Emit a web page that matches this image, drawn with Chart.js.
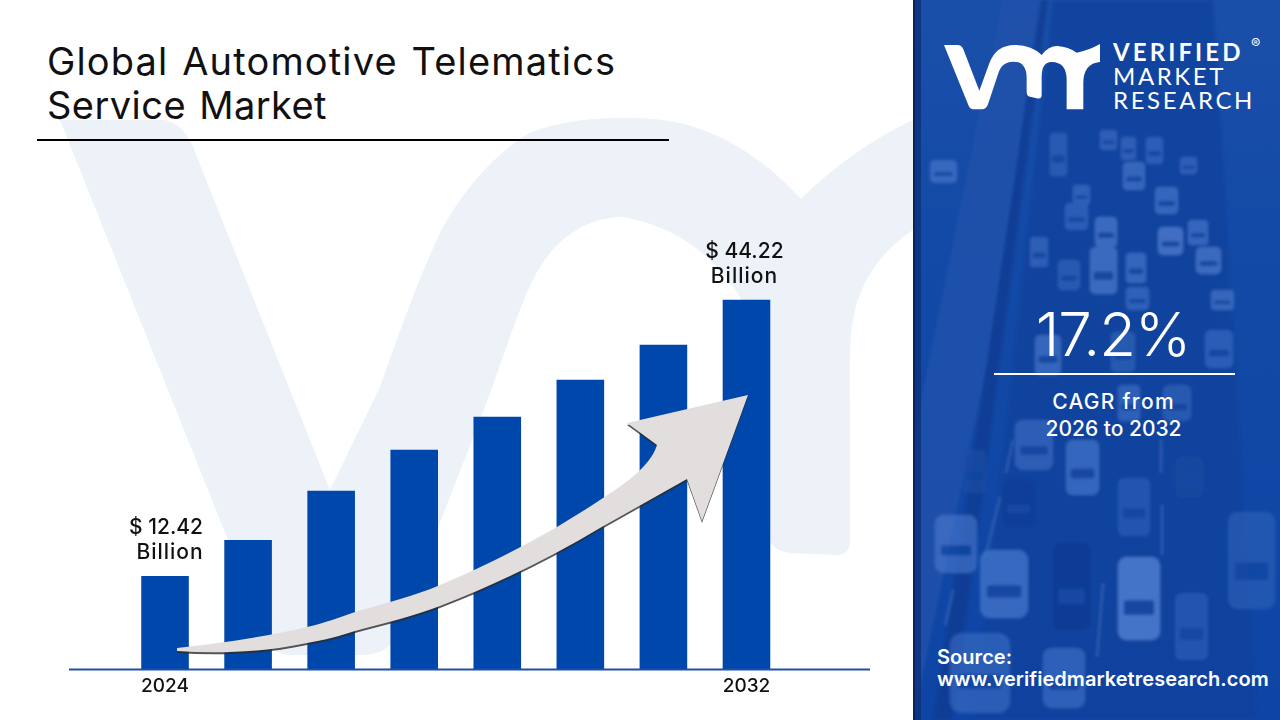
<!DOCTYPE html>
<html>
<head>
<meta charset="utf-8">
<title>Global Automotive Telematics Service Market</title>
<script src="https://cdn.jsdelivr.net/npm/chart.js@4"></script>
<style>
  html, body { margin: 0; padding: 0; }
  body { width: 1280px; height: 720px; overflow: hidden; background: #fff; position: relative; font-family: Inter, "Open Sans", sans-serif; }
  .abs { position: absolute; }
  #title { left: 47px; top: 39px; font-size: 38px; line-height: 44px; color: #111; letter-spacing: 1.15px; word-spacing: 2px; white-space: nowrap; }
  #title span { letter-spacing: 0.45px; }
  #rule { left: 37px; top: 139px; width: 632px; height: 2px; background: #000; }
  #chartBox { left: 0; top: 0; width: 913px; height: 720px; }
  #panel { left: 913px; top: 0; width: 367px; height: 720px; background: #0f46a6; overflow: hidden; }
  .white { color: #fff; white-space: nowrap; }
  .center { text-align: center; }
  .logoText { left: 200px; font-size: 24px; line-height: 24px; letter-spacing: 2.6px; font-family: Lato, sans-serif; }
</style>
</head>
<body>
<!-- pale logo behind the bars -->
<svg class="abs" style="left:0;top:0" width="913" height="720">
  <path fill="#edf1f8" d="M60 120H165Q187 125 197 157L330 490L380 387C400 330 420 275 440 233C465 185 500 150 530 133C565 118 620 115 663 120C720 128 765 160 801 199C830 170 870 140 913 120V230C890 245 860 275 853 320C848 350 850 390 850 420V540Q850 556 835 555L790 553Q770 550 768 535L765 380C760 340 745 300 733 287C715 260 680 227 623 217C590 217 560 235 540 267C520 300 505 355 480 420L394 640Q385 655 360 655H290Q275 655 268 640Z"/>
</svg>
<div class="abs" id="title">Global Automotive Telematics<br><span>Service Market</span></div>
<div class="abs" id="rule"></div>
<div class="abs" id="chartBox"><canvas id="marketChart"></canvas></div>

<!-- arrow over the bars -->
<svg class="abs" style="left:0;top:0;pointer-events:none" width="913" height="720">
  <path fill="#2a2a2a" opacity="0.8" transform="translate(0 2)"
    d="M177 648C220 643 265 637 307 627C325 623 340 617 355 612C385 603 415 596 440 585C500 560 555 530 600 500C620 487 650 468 657 445L627 423L748 395L702 521L687 479L600 528C550 558 495 585 440 606C410 617 385 623 355 631C340 636 325 640 307 643C265 652 220 654 177 651Z"/>
  <path fill="#e2dede"
    d="M177 648C220 643 265 637 307 627C325 623 340 617 355 612C385 603 415 596 440 585C500 560 555 530 600 500C620 487 650 468 657 445L627 423L748 395L702 521L687 479L600 528C550 558 495 585 440 606C410 617 385 623 355 631C340 636 325 640 307 643C265 652 220 654 177 651Z"/>
</svg>

<div class="abs" id="panel">
  <svg class="abs" id="traffic" style="left:0;top:0" width="367" height="720">
    <defs>
      <filter id="soft"><feGaussianBlur stdDeviation="1.4"/></filter>
      <linearGradient id="sky" x1="0" y1="0" x2="0" y2="1">
        <stop offset="0" stop-color="#1a4fa9"/>
        <stop offset="0.35" stop-color="#134aa7"/>
        <stop offset="1" stop-color="#0e45a5"/>
      </linearGradient>
    </defs>
    <rect width="367" height="720" fill="url(#sky)"/>
    <g filter="url(#soft)">
      <path d="M90 0H125L85 310L0 720V440Z" fill="#2253ab" opacity="0.8"/>
      <path d="M128 0H135L40 720H20Z" fill="#0c3c92" opacity="0.8"/>
      <path d="M140 0H300L345 720H60Z" fill="#0f429c" opacity="0.8"/>
      <g id="cars" opacity="0.62"></g>
      <g stroke="#4a76c2" stroke-width="1.5" fill="none" opacity="0.7">
        <path d="M100 440L93 473M87 497L72 557M40 590L32 625M248 440V473M249 505V555M190 583L184 657"/>
      </g>
    </g>
    <rect x="0" y="0" width="8" height="720" fill="#0b2f78" opacity="0.75"/>
    <rect x="0" y="0" width="2" height="720" fill="#07245f"/>
  </svg>
  <!-- logo -->
  <svg class="abs" style="left:0;top:0" width="367" height="130">
    <path fill="#fff" transform="translate(7 20) scale(0.3333)"
      d="M72 75H112Q125 75 130 88L178 212L208 130Q228 75 285 75Q335 75 365 105Q385 78 412 78Q445 80 470 98Q505 92 540 72V126Q490 130 490 190V268H440V180Q440 126 395 126Q365 126 365 170V225Q365 238 350 235L330 230Q320 228 320 215V175Q320 125 280 125Q245 125 235 160L205 250Q200 268 185 268H160Q150 268 145 255Z"/>
  </svg>
  <div class="abs white logoText" style="top:40px;font-weight:700;letter-spacing:3.1px">VERIFIED</div>
  <div class="abs white logoText" style="top:64px">MARKET</div>
  <div class="abs white logoText" style="top:88px">RESEARCH</div>
  <div class="abs white" style="left:338px;top:36px;font-size:14px;line-height:16px">®</div>
  <div class="abs white center" style="left:0;width:400px;top:298px;font-size:60px;line-height:72px;font-weight:300;letter-spacing:-1px">17.2%</div>
  <div class="abs" style="left:81px;top:373px;width:241px;height:2px;background:#fff"></div>
  <div class="abs white center" style="left:80px;width:241px;top:388px;font-size:21px;line-height:27px;font-weight:500"><span style="letter-spacing:1.3px">CAGR from</span><br>2026 to 2032</div>
  <div class="abs white" style="left:24px;top:646px;font-size:20px;line-height:22px;font-weight:600;letter-spacing:0.05px">Source:<br>www.verifiedmarketresearch.com</div>
</div>

<script>
const years = ['2024', '', '', '', '', '', '', '2032'];
const marketValues = [12.42, 16.56, 22.21, 26.94, 30.74, 35.0, 39.03, 44.22];
const valueLabels = [['$ 12.42', 'Billion'], null, null, null, null, null, null, ['$ 44.22', 'Billion']];
const labelShift = [[1, 5], null, null, null, null, null, null, [-2, -2]];

const barBlue = '#0047ab';

// background photo, only a rough impression of the traffic
const carBoxes = [
  [22, 515, 42, 58, '#4a78cc'], [67, 550, 48, 68, '#4f80d4'], [153, 440, 33, 55, '#4d7dd0'],
  [205, 557, 42, 83, '#6391e0'], [205, 478, 32, 58, '#2f62bb'], [37, 633, 60, 80, '#3a6cc4'],
  [130, 648, 42, 60, '#4373c9'], [315, 512, 47, 97, '#2f62b8'], [262, 593, 33, 67, '#2d61b9'],
  [263, 457, 27, 40, '#1a4a9f'], [140, 543, 37, 87, '#0a388c'], [90, 480, 32, 47, '#0d3d96'],
  [50, 450, 23, 43, '#1a4ca3'], [103, 440, 37, 30, '#0a388c'],
  [177, 247, 27, 47, '#5582d4'], [182, 217, 22, 30, '#5582d4'], [213, 253, 20, 30, '#4d7bce'],
  [213, 287, 23, 23, '#4473c8'], [245, 227, 25, 28, '#5c88d8'], [242, 187, 23, 27, '#4d7bce'],
  [210, 162, 22, 28, '#4d7bce'], [208, 137, 15, 23, '#3f6ec4'], [187, 130, 17, 20, '#3f6ec4'],
  [137, 133, 17, 43, '#3567bd'], [160, 185, 17, 20, '#4473c8'], [152, 203, 23, 27, '#3a6cc4'],
  [117, 237, 18, 30, '#3f6ec4'], [145, 260, 22, 30, '#3567bd'], [283, 247, 25, 27, '#5582d4'],
  [275, 220, 20, 25, '#4d7bce'], [267, 157, 17, 17, '#3f6ec4'], [233, 137, 17, 27, '#3a6cc4'],
  [17, 160, 27, 23, '#4d7bce'], [298, 290, 23, 20, '#4d7bce'],
  [122, 335, 26, 40, '#4d7bce'], [292, 330, 28, 38, '#3a6cc4'], [198, 332, 24, 40, '#3567bd'],
  [102, 420, 38, 50, '#3f6ec4'], [205, 385, 22, 36, '#4473c8'], [250, 385, 28, 36, '#3567bd'],
];

const traffic = document.getElementById('cars');
carBoxes.forEach(([x, y, w, h, colour]) => {
  const body = document.createElementNS('http://www.w3.org/2000/svg', 'rect');
  body.setAttribute('x', x);
  body.setAttribute('y', y);
  body.setAttribute('width', w);
  body.setAttribute('height', h);
  body.setAttribute('rx', Math.min(w, h) * 0.2);
  body.setAttribute('fill', colour);
  traffic.appendChild(body);
  const glass = document.createElementNS('http://www.w3.org/2000/svg', 'rect');
  glass.setAttribute('x', x + w * 0.14);
  glass.setAttribute('y', y + h * 0.52);
  glass.setAttribute('width', w * 0.72);
  glass.setAttribute('height', h * 0.18);
  glass.setAttribute('rx', 2);
  glass.setAttribute('fill', '#164aa4');
  traffic.appendChild(glass);
});

// two line labels sitting above the first and the last bar
const barLabels = {
  id: 'barLabels',
  afterDatasetsDraw(chart) {
    const ctx = chart.ctx;
    const bars = chart.getDatasetMeta(0).data;
    ctx.save();
    ctx.fillStyle = '#111';
    ctx.font = '500 21px Inter, sans-serif';
    ctx.textAlign = 'center';
    bars.forEach((bar, i) => {
      if (!valueLabels[i]) return;
      ctx.letterSpacing = '0px';
      ctx.fillText(valueLabels[i][0], bar.x + labelShift[i][0], bar.y - 42);
      ctx.letterSpacing = '1px';
      ctx.fillText(valueLabels[i][1], bar.x + labelShift[i][1], bar.y - 17);
    });
    ctx.restore();
  },
};

// baseline runs wider than the bars
const baseLine = {
  id: 'baseLine',
  afterDatasetsDraw(chart) {
    const ctx = chart.ctx;
    const y = chart.scales.y.bottom;
    ctx.save();
    ctx.fillStyle = '#1c4fa8';
    ctx.fillRect(69, y - 0.5, 801, 2);
    ctx.restore();
  },
};

new Chart(document.getElementById('marketChart'), {
  type: 'bar',
  data: {
    labels: years,
    datasets: [{
      data: marketValues,
      backgroundColor: barBlue,
      barPercentage: 0.573,
      categoryPercentage: 1,
    }],
  },
  options: {
    responsive: true,
    maintainAspectRatio: false,
    animation: false,
    layout: { padding: { left: 123.5, right: 125, top: 200, bottom: 0 } },
    plugins: { legend: { display: false }, tooltip: { enabled: false } },
    scales: {
      x: {
        grid: { display: false, drawTicks: false },
        border: { display: false },
        ticks: {
          color: '#111',
          font: { family: 'Inter', size: 19, weight: '500' },
          maxRotation: 0,
          autoSkip: false,
          padding: 6,
        },
        afterFit(axis) { axis.height = 51; },
      },
      y: {
        display: false,
        min: 1.7,
        max: 55.7,
      },
    },
  },
  plugins: [barLabels, baseLine],
});
</script>
</body>
</html>
